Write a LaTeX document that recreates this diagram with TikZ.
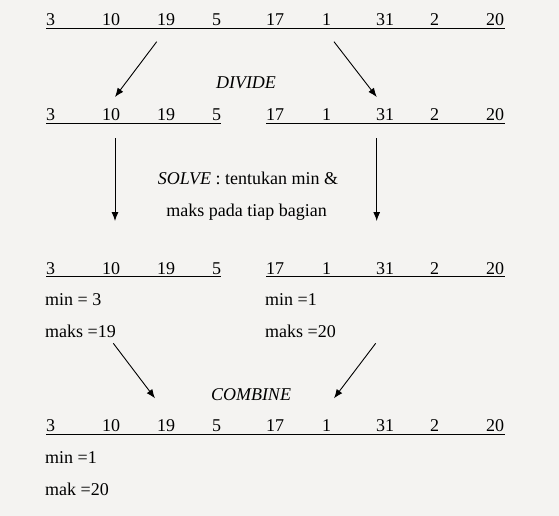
\documentclass[tikz,border=0pt]{standalone}
\usepackage{fontspec}
\setmainfont{Liberation Serif}
\usetikzlibrary{arrows.meta}
\definecolor{paper}{RGB}{244,243,241}
\begin{document}
\begin{tikzpicture}[x=1pt,y=-1pt,
  txt/.style={anchor=base west,inner sep=0pt,font=\fontsize{18}{21}\selectfont},
  lbl/.style={anchor=base,inner sep=0pt,font=\fontsize{18}{21}\selectfont},
  arr/.style={-{Latex[length=9pt,width=7pt]},line width=0.9pt}]
\fill[paper](0,0) rectangle (559,516);
% baris angka
\foreach \r/\y in {a/26,b/121,c/274,d/431}{
\foreach \x/\v [count=\i] in {46/3,102/10,157/19,212/5,266/17,322/1,376/31,430/2,486/20}
{\node[txt] (\r\i) at (\x,\y) {\v};}
}
\draw[line width=0.8pt](46,28.5)--(505,28.5) (46,434.5)--(505,434.5);
\draw[line width=0.8pt](46,123.5)--(220.5,123.5) (266,123.5)--(505,123.5);
\draw[line width=0.8pt](46,276.5)--(220.5,276.5) (266,276.5)--(505,276.5);
% keterangan
\node[lbl] (divide) at (246,89) {\textit{DIVIDE}};
\node[lbl] (solve1) at (248,184) {\textit{SOLVE} : tentukan min \&};
\node[lbl] (solve2) at (246.5,216) {maks pada tiap bagian};
\node[lbl] (combine) at (251,400) {\textit{COMBINE}};
\node[txt] (minL) at (45,305) {min = 3};
\node[txt] (maxL) at (45,337) {maks =19};
\node[txt] (minR) at (265,305) {min =1};
\node[txt] (maxR) at (265,337) {maks =20};
\node[txt] (minAll) at (45,463) {min =1};
\node[txt] (maxAll) at (45,495) {mak =20};
% panah
\coordinate (p1) at (156.7,41.7); \coordinate (q1) at (115,97);
\coordinate (p2) at (334,41.7); \coordinate (q2) at (376.7,97);
\coordinate (p3) at (115,138); \coordinate (q3) at (115,221);
\coordinate (p4) at (376.7,138); \coordinate (q4) at (376.7,221);
\coordinate (p5) at (113.3,343.3); \coordinate (q5) at (155,398.3);
\coordinate (p6) at (375.7,343.3); \coordinate (q6) at (334,398.3);
\foreach \k in {1,...,6}{\draw[arr](p\k)--(q\k);}
\end{tikzpicture}
\end{document}
